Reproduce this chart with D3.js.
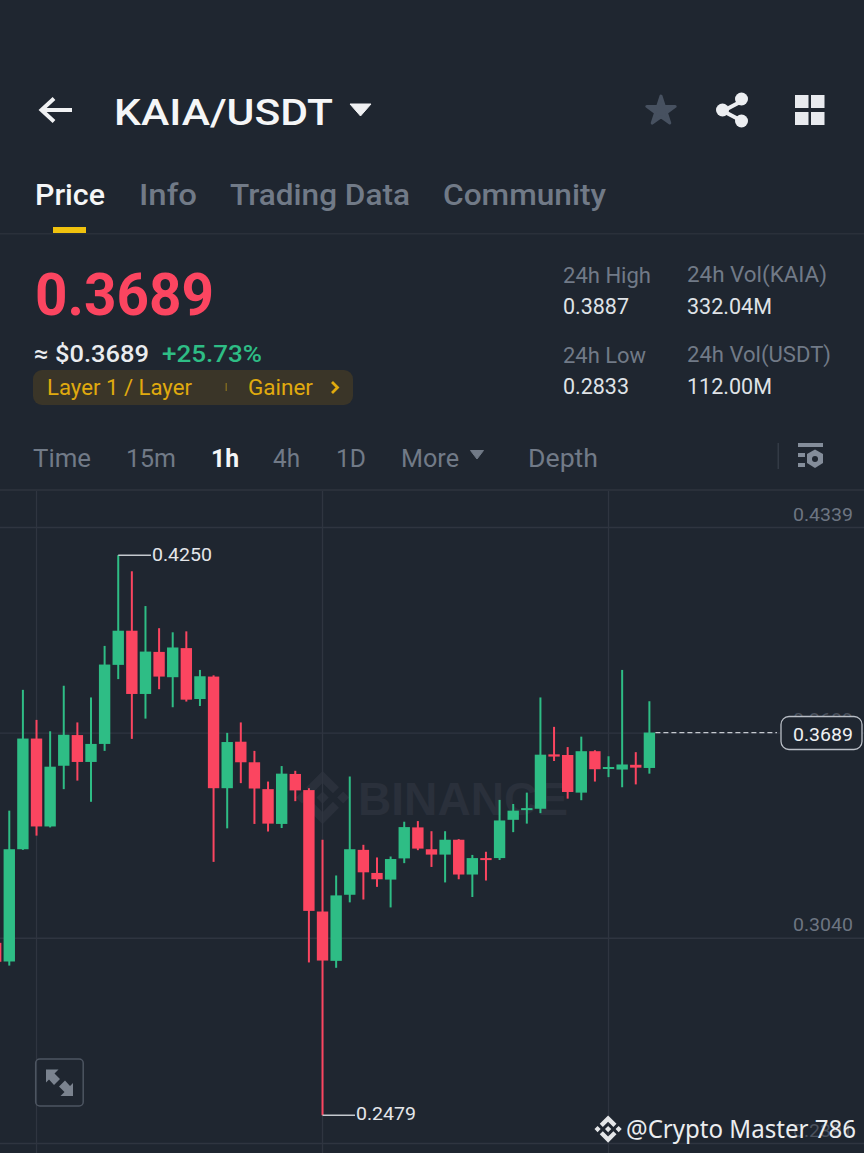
<!DOCTYPE html>
<html><head><meta charset="utf-8">
<script src="https://d3js.org/d3.v7.min.js"></script>
<style>
html,body{margin:0;padding:0;background:#1f2630;overflow:hidden}
svg{display:block}
</style></head><body>
<div id="chart"></div>
<script>
// ---- chart data ----
const candleIndex = d3.range(-1, 48);
const opens  = [.3024,.2965,.3320,.3670,.3392,.3584,.3681,.3596,.3653,.3903,.4011,.3811,.3944,.3864,.3956,.3795,.3866,.3513,.3660,.3595,.3510,.3400,.3558,.3507,.3123,.2967,.3176,.3318,.3245,.3224,.3291,.3389,.3320,.3303,.3350,.3240,.3292,.3292,.3413,.3445,.3448,.3620,.3618,.3499,.3630,.3574,.3572,.3587,.3577];
const highs  = [.3024,.3442,.3824,.3729,.3693,.3837,.3721,.3800,.3963,.4250,.4199,.4089,.4019,.4006,.4009,.3887,.3870,.3688,.3721,.3631,.3534,.3583,.3568,.3513,.3350,.3237,.3550,.3334,.3294,.3297,.3407,.3409,.3377,.3377,.3352,.3302,.3312,.3476,.3463,.3499,.3800,.3707,.3643,.3676,.3633,.3614,.3887,.3627,.3788];
const lows   = [.2964,.2952,.3318,.3363,.3389,.3510,.3537,.3470,.3631,.3858,.3669,.3733,.3826,.3769,.3787,.3773,.3280,.3386,.3529,.3400,.3376,.3387,.3472,.2962,.2479,.2945,.3152,.3161,.3201,.3136,.3276,.3317,.3264,.3215,.3225,.3169,.3221,.3286,.3374,.3401,.3434,.3599,.3480,.3475,.3534,.3548,.3516,.3525,.3559];
const closes = [.2964,.3320,.3670,.3392,.3581,.3682,.3596,.3653,.3904,.4011,.3811,.3945,.3866,.3958,.3793,.3867,.3513,.3659,.3595,.3512,.3401,.3559,.3506,.3125,.2968,.3174,.3320,.3247,.3225,.3289,.3390,.3322,.3303,.3350,.3240,.3292,.3286,.3411,.3442,.3450,.3619,.3613,.3501,.3630,.3573,.3580,.3588,.3578,.3689];
const priceTicks = [.4339,.3689,.3040,.2391];
const timeGridIndex = [2,23,44];
const lastPrice = .3689, periodHigh = .4250, periodLow = .2479;
const highIndex = 8, lowIndex = 23, lastIndex = 47;

// ---- text content ----
const pairName = "KAIA/USDT";
const tabLabels = ["Price","Info","Trading Data","Community"];
const intervalLabels = ["Time","15m","1h","4h","1D","More","Depth"];
const statLabels = ["24h High","24h Vol(KAIA)","24h Low","24h Vol(USDT)"];
const statValues = ["0.3887","332.04M","0.2833","112.00M"];

// ---- styling / layout ----
const W=864,H=1153, BG="#1f2630", GREEN="#2ebd85", RED="#fb4560", GRID="#2f3540",
      GREY="#717a87", WHITE="#eaecef", GOLD="#e0aa0e", WM="#2a303b";
const FONT='"Noto Sans",sans-serif', DIN='Roboto,sans-serif';
const LOGO="M38.73 53.2l24.59-24.58 24.6 24.6 14.3-14.31L63.32 0 24.43 38.9zM0 63.31l14.3-14.31 14.31 14.31-14.31 14.3zM38.73 73.41l24.59 24.59 24.6-24.6 14.31 14.29-38.9 38.91-38.91-38.88-.02-.02zM98.01 63.31l14.3-14.31 14.31 14.3-14.31 14.31zM77.83 63.3L63.32 48.78 52.59 59.51l-1.24 1.23-2.54 2.54 14.51 14.5 14.51-14.52z";

const svg=d3.select("#chart").append("svg").attr("width",W).attr("height",H).attr("viewBox",`0 0 ${W} ${H}`);
svg.append("rect").attr("width",W).attr("height",H).attr("fill",BG);

function T(s,x,y,size,fill,o={}){
  const t=svg.append("text").text(s).attr("x",x).attr("y",y).attr("font-size",size).attr("fill",fill)
    .attr("font-weight",o.w||400).attr("font-family",o.f||DIN);
  if(o.a)t.attr("text-anchor",o.a);
  if(o.len)t.attr("textLength",o.len).attr("lengthAdjust","spacingAndGlyphs");
  return t;
}

// ---- header ----
svg.append("path").attr("d","M72 110H42M54 98.5L41.5 110L54 121.5").attr("fill","none").attr("stroke","#f0f1f3").attr("stroke-width",4);
T(pairName,114,125,37,"#f5f6f7",{w:500,len:219});
svg.append("path").attr("d","M350 104H371L360.5 116Z").attr("fill","#f0f1f3").attr("stroke","#f0f1f3").attr("stroke-width",1).attr("stroke-linejoin","round");
// star
svg.append("path").attr("d",d3.symbol(d3.symbolStar,250)()).attr("transform","translate(661,111)").attr("fill","#475160").attr("stroke","#475160").attr("stroke-width",3).attr("stroke-linejoin","round");
// share
svg.append("path").attr("d","M742 101L723 111L742 121").attr("fill","none").attr("stroke","#eceef1").attr("stroke-width",4);
[[741.5,99,6.5],[722.5,110,6.5],[741.5,121,6.5]].forEach(c=>svg.append("circle").attr("cx",c[0]).attr("cy",c[1]).attr("r",c[2]).attr("fill","#eceef1"));
// grid icon
[[795,95],[811,95],[795,112],[811,112]].forEach(c=>svg.append("rect").attr("x",c[0]).attr("y",c[1]).attr("width",13.5).attr("height",13).attr("fill","#e8eaee"));

// tabs
const tabX=[35,139,230,443], tabLen=[70,58,180,163];
tabLabels.forEach((s,i)=>T(s,tabX[i],205,30,i==0?"#f5f6f7":GREY,{w:500,len:tabLen[i]}));
svg.append("rect").attr("x",53).attr("y",227).attr("width",33).attr("height",6).attr("fill","#f0c20e");
svg.append("rect").attr("x",0).attr("y",233).attr("width",W).attr("height",1.5).attr("fill","#2a303a");

// price block
T(lastPrice.toFixed(4),35,315,60,RED,{w:700,len:179});
T("≈ $0.3689",34,362,24,WHITE,{w:500,len:115});
T("+25.73%",162,362,24,GREEN,{w:500,len:100});
svg.append("rect").attr("x",33).attr("y",370).attr("width",320).attr("height",35).attr("rx",9).attr("fill","#3a3528");
T("Layer 1 / Layer",47,395,22.5,GOLD,{len:145});
svg.append("rect").attr("x",225.5).attr("y",383).attr("width",1.5).attr("height",8).attr("fill","#7a6620");
T("Gainer",248,395,22.5,GOLD,{len:65});
svg.append("path").attr("d","M332 382L337.5 387.5L332 393").attr("fill","none").attr("stroke",GOLD).attr("stroke-width",2.8);

// stats
const statX=[563,687,563,687], statLY=[283,282,363,362], statVY=[314,314,394,394], statLLen=[88,140,83,144], statVLen=[66,85,66,85];
statLabels.forEach((s,i)=>T(s,statX[i],statLY[i],21.5,GREY,{len:statLLen[i]}));
statValues.forEach((s,i)=>T(s,statX[i],statVY[i],21.5,"#dfe2e6",{len:statVLen[i]}));

// intervals
const ivX=[33,126,211,273,336,401,528], ivLen=[58,50,28,27,30,58,70];
intervalLabels.forEach((s,i)=>T(s,ivX[i],467,26.5,s=="1h"?"#f5f6f7":GREY,{w:s=="1h"?700:400,len:ivLen[i]}));
svg.append("path").attr("d","M470.5 450.5H483.5L477 459Z").attr("fill",GREY).attr("stroke",GREY).attr("stroke-linejoin","round");
svg.append("rect").attr("x",777.5).attr("y",443).attr("width",1.5).attr("height",26).attr("fill","#333a45");
const ic=svg.append("g").attr("fill","#848d9a");
ic.append("rect").attr("x",798).attr("y",443).attr("width",25).attr("height",4);
ic.append("rect").attr("x",798).attr("y",453).attr("width",7).attr("height",4);
ic.append("rect").attr("x",798).attr("y",463).attr("width",7).attr("height",4);
ic.append("path").attr("d","M815 449.5L823 454V463L815 468L807 463V454Z");
svg.append("circle").attr("cx",815).attr("cy",459).attr("r",3).attr("fill",BG);
svg.append("rect").attr("x",0).attr("y",489).attr("width",W).attr("height",2).attr("fill","#2a303a");

// ---- scales ----
const y=d3.scaleLinear().domain([.4339,.2391]).range([527,1143]);
const x=d3.scaleBand().domain(candleIndex).range([-11.15,656.2]).paddingInner(.165).paddingOuter(.0825);
const cx=i=>x(i)+x.bandwidth()/2;

// watermark
svg.append("path").attr("d",LOGO).attr("fill",WM).attr("transform","translate(296,771) scale(.42)");
T("BINANCE",358,815,46,WM,{w:700,len:210,f:'"Liberation Sans",sans-serif'});

// grid
svg.append("g").selectAll("line").data(timeGridIndex).join("line")
  .attr("x1",cx).attr("x2",cx).attr("y1",491).attr("y2",H).attr("stroke",GRID).attr("stroke-width",1.3);
const axis=d3.axisRight(y).tickValues(priceTicks).tickSize(W).tickFormat(d3.format(".4f"));
const ag=svg.append("g").attr("class","yaxis").call(axis);
ag.select(".domain").remove();
ag.selectAll("line").attr("stroke",GRID).attr("stroke-width",1.3);
ag.selectAll("text").attr("x",793).attr("dy",-7).attr("text-anchor","start").attr("font-size",18.5)
  .attr("font-family",DIN).attr("textLength",60).attr("lengthAdjust","spacingAndGlyphs")
  .attr("fill",(d,i)=>(i==0||i==2)?"#6d7582":"#4b525e");

// candles
const rows=candleIndex.map((idx,i)=>({idx,o:opens[i],h:highs[i],l:lows[i],c:closes[i]}));
const g=svg.append("g");
g.selectAll(".wick").data(rows).join("line").attr("class","wick")
  .attr("x1",d=>cx(d.idx)).attr("x2",d=>cx(d.idx)).attr("y1",d=>y(d.h)).attr("y2",d=>y(d.l))
  .attr("stroke",d=>d.c>=d.o?GREEN:RED).attr("stroke-width",2);
g.selectAll(".body").data(rows).join("rect").attr("class","body")
  .attr("x",d=>x(d.idx)).attr("width",x.bandwidth())
  .attr("y",d=>y(Math.max(d.o,d.c))).attr("height",d=>Math.max(2,y(Math.min(d.o,d.c))-y(Math.max(d.o,d.c))))
  .attr("fill",d=>d.c>=d.o?GREEN:RED);

// high / low callouts
svg.append("line").attr("x1",cx(highIndex)).attr("x2",151).attr("y1",y(periodHigh)).attr("y2",y(periodHigh)).attr("stroke","#c4c8ce").attr("stroke-width",1.5);
T(periodHigh.toFixed(4),152,561,19,"#e4e6ea",{len:60});
svg.append("line").attr("x1",cx(lowIndex)).attr("x2",355).attr("y1",y(periodLow)).attr("y2",y(periodLow)).attr("stroke","#c4c8ce").attr("stroke-width",1.5);
T(periodLow.toFixed(4),356,1120,19,"#e4e6ea",{len:60});

// last price line and label
svg.append("line").attr("x1",cx(lastIndex)+6).attr("x2",777).attr("y1",y(lastPrice)).attr("y2",y(lastPrice))
  .attr("stroke","#c4c8ce").attr("stroke-width",1.3).attr("stroke-dasharray","5 3");
svg.append("rect").attr("x",781).attr("y",716.5).attr("width",81).attr("height",33).attr("rx",8).attr("fill",BG).attr("stroke","#b9bec6").attr("stroke-width",1.3);
T(lastPrice.toFixed(4),793,741,19,"#eef0f2",{len:60});

// expand button
svg.append("rect").attr("x",35.7).attr("y",1059).attr("width",47.5).attr("height",47).attr("rx",4).attr("fill","none").attr("stroke","#4d5561").attr("stroke-width",1.5);
svg.append("path").attr("d","M46 1069.5H58.5L54.5 1073.5L60 1079L54 1085L49 1079.5L46 1082.5ZM73 1096H60.5L64.5 1092L59 1086.5L65 1080.5L70 1086L73 1083Z").attr("fill","#7b838f");

// footer watermark
svg.append("path").attr("d",LOGO).attr("fill","#e4e6e8").attr("transform","translate(594.5,1115.5) scale(.215)");
T("@Crypto Master 786",626,1138,25,"#ebedef",{f:FONT,len:230});
</script>
</body></html>
